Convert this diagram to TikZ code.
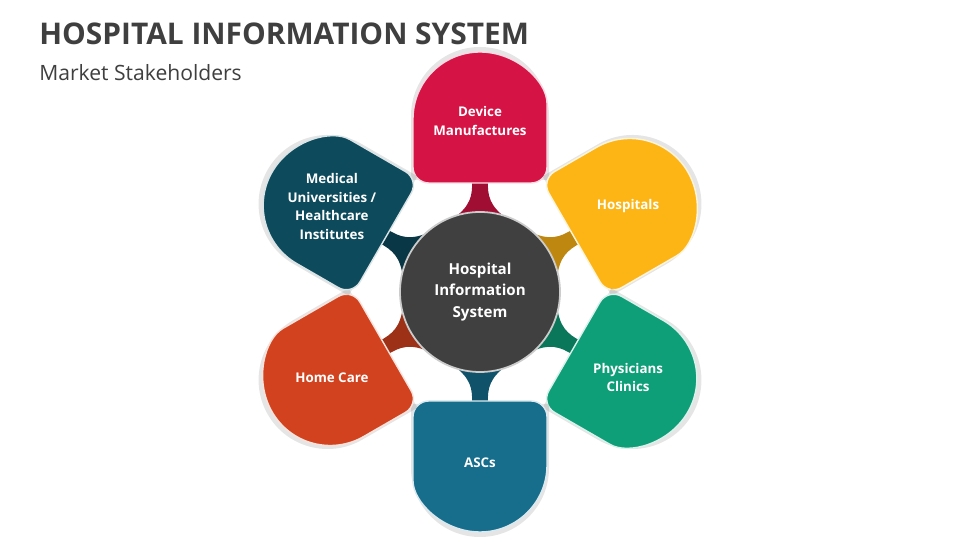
\documentclass[tikz,border=0pt]{standalone}
\usepackage{fontspec}
\setmainfont{Open Sans}
\usetikzlibrary{calc}
\definecolor{titlegray}{HTML}{3F3F3F}
\definecolor{hubgray}{HTML}{404040}
\definecolor{cDevice}{HTML}{D61345}
\definecolor{cHosp}{HTML}{FDB515}
\definecolor{cPhys}{HTML}{0E9F78}
\definecolor{cAsc}{HTML}{166E8C}
\definecolor{cHome}{HTML}{D2421F}
\definecolor{cMed}{HTML}{0C4A5C}
\begin{document}
\begin{tikzpicture}[x=0.02cm,y=0.02cm,
   petaltext/.style={text=white, font=\bfseries\fontsize{7.6}{10.5}\selectfont, align=center},
   petal/.style={fill=#1, draw=white!85!#1, line width=0.8pt, rounded corners=9},
   neck/.style={fill=#1!75!black}]
\useasboundingbox (0,0) rectangle (960,540);
\fill[white] (0,0) rectangle (960,540);
\node[anchor=west, inner sep=0pt, text=titlegray, font=\bfseries\fontsize{17}{20}\selectfont] (title) at (39,506) {HOSPITAL INFORMATION SYSTEM};
\node[anchor=west, inner sep=0pt, text=titlegray, font=\fontsize{12}{15}\selectfont] (subtitle) at (39,467) {Market Stakeholders};

\coordinate (hub) at (480,248);
\foreach \ang/\col in {90/cDevice,30/cHosp,-30/cPhys,-90/cAsc,-150/cHome,150/cMed}{
  \begin{scope}[shift={(hub)}, rotate=\ang]
    \fill[neck=\col] (74,26) .. controls (86,10) and (96,7) .. (113,8) -- (113,-8)
        .. controls (96,-7) and (86,-10) .. (74,-26) -- cycle;
    \fill[black, opacity=0.10] (112,-69) -- (176,-69) arc (-90:90:69) -- (112,69) -- cycle;
    \draw[petal=\col] (109,-67) -- (173,-67) [rounded corners=0] arc (-90:90:67) [rounded corners=9] -- (109,67) -- cycle;
  \end{scope}
}
\fill[hubgray, draw=white!80!black, line width=1pt] (hub) circle (80);
\node[inner sep=0pt, text=white, font=\bfseries\fontsize{8.6}{12}\selectfont, align=center] (hubtext) at (hub) {Hospital\\Information\\System};

\node[petaltext] (device) at ($(hub)+(90:171)$) {Device\\Manufactures};
\node[petaltext] (hospitals) at ($(hub)+(30:171)$) {Hospitals};
\node[petaltext] (clinics) at ($(hub)+(-30:171)$) {Physicians\\Clinics};
\node[petaltext] (ascs) at ($(hub)+(-90:171)$) {ASCs};
\node[petaltext] (homecare) at ($(hub)+(-150:171)$) {Home Care};
\node[petaltext] (medical) at ($(hub)+(150:171)$) {Medical\\Universities /\\Healthcare\\Institutes};
\end{tikzpicture}
\end{document}
